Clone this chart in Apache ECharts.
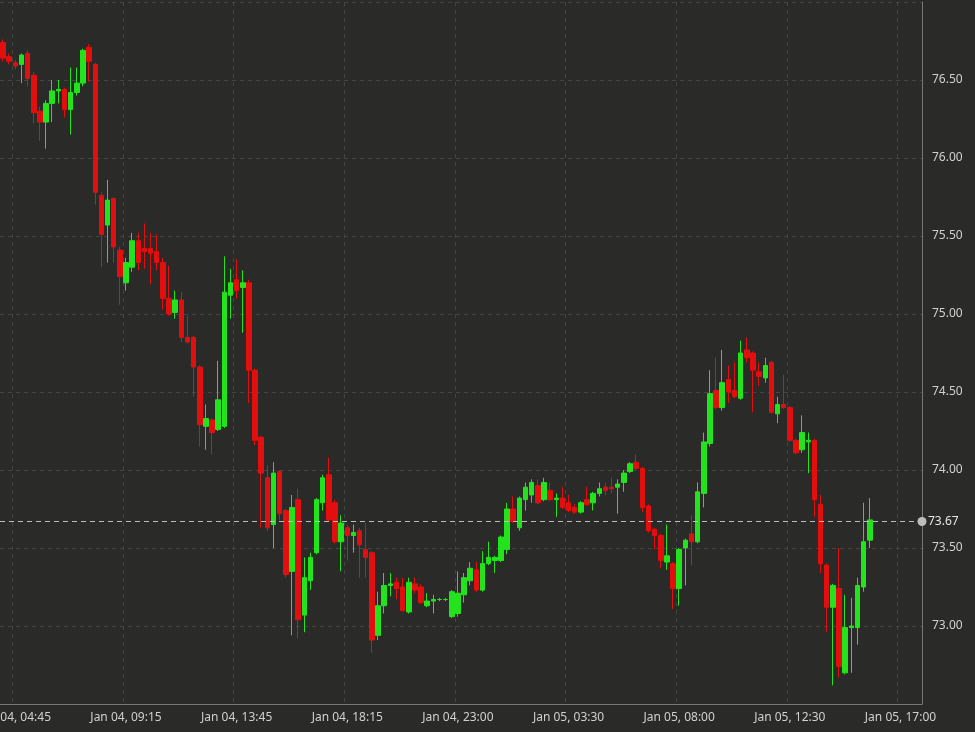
<!DOCTYPE html>
<html lang="en">
<head>
<meta charset="UTF-8">
<title>Candles</title>
<script src="https://cdn.jsdelivr.net/npm/echarts@6/dist/echarts.min.js"></script>
<style>html,body{margin:0;padding:0;background:#2a2b29;}</style>
</head>
<body>
<div id="main" style="width:975px;height:732px;"></div>
<script>
// 15-minute candles: [open, close, low, high]
var candles = [
  [76.74,76.64,76.62,76.76],[76.65,76.62,76.60,76.67],[76.61,76.59,76.57,76.63],[76.60,76.66,76.48,76.67],
  [76.67,76.51,76.46,76.69],[76.53,76.29,76.22,76.55],[76.30,76.23,76.11,76.33],[76.23,76.35,76.06,76.37],
  [76.35,76.43,76.23,76.50],[76.43,76.44,76.35,76.50],[76.44,76.31,76.26,76.45],[76.31,76.42,76.15,76.58],
  [76.42,76.48,76.40,76.58],[76.48,76.69,76.46,76.70],[76.71,76.62,76.49,76.73],[76.60,75.78,75.70,76.61],
  [75.76,75.51,75.30,75.78],[75.57,75.73,75.33,75.86],[75.74,75.43,75.33,75.75],[75.41,75.24,75.06,75.43],
  [75.20,75.33,75.15,75.36],[75.30,75.47,75.27,75.52],[75.47,75.33,75.28,75.52],[75.42,75.40,75.29,75.58],
  [75.42,75.39,75.19,75.52],[75.40,75.33,75.28,75.51],[75.33,75.10,75.03,75.36],[75.10,75.00,74.99,75.31],
  [75.01,75.09,74.97,75.15],[75.09,74.85,74.82,75.14],[74.85,74.82,74.81,74.99],[74.85,74.66,74.47,74.86],
  [74.66,74.29,74.15,74.67],[74.28,74.33,74.13,74.42],[74.32,74.24,74.10,74.33],[74.26,74.45,74.25,74.70],
  [74.28,75.14,74.27,75.37],[75.12,75.20,74.97,75.29],[75.22,75.15,75.10,75.35],[75.17,75.20,74.88,75.28],
  [75.20,74.64,74.43,75.22],[74.64,74.19,74.16,74.65],[74.21,73.98,73.63,74.22],[73.95,73.63,73.61,74.03],
  [73.65,73.98,73.50,74.05],[73.99,73.72,73.68,74.00],[73.74,73.33,73.31,73.75],[73.35,73.76,72.94,73.84],
  [73.81,73.04,72.92,73.88],[73.07,73.31,72.96,73.44],[73.29,73.44,73.23,73.47],[73.47,73.81,73.46,73.82],
  [73.79,73.95,73.74,73.97],[73.97,73.68,73.67,74.08],[73.79,73.54,73.53,73.81],[73.54,73.66,73.35,73.71],
  [73.63,73.58,73.42,73.65],[73.58,73.60,73.47,73.65],[73.61,73.52,73.31,73.63],[73.49,73.44,73.31,73.66],
  [73.47,72.91,72.83,73.48],[72.94,73.13,72.91,73.22],[73.13,73.26,73.08,73.34],[73.26,73.27,73.19,73.34],
  [73.28,73.24,73.17,73.31],[73.25,73.10,73.09,73.31],[73.09,73.28,73.08,73.31],[73.27,73.23,73.21,73.31],
  [73.25,73.15,73.14,73.27],[73.13,73.16,73.12,73.21],[73.16,73.17,73.08,73.20],[73.17,73.17,73.16,73.18],
  [73.17,73.17,73.16,73.18],[73.06,73.22,73.05,73.23],[73.08,73.21,73.06,73.35],[73.20,73.31,73.15,73.34],
  [73.29,73.37,73.26,73.41],[73.36,73.23,73.22,73.41],[73.23,73.40,73.22,73.48],[73.40,73.44,73.39,73.54],
  [73.42,73.44,73.34,73.45],[73.42,73.57,73.41,73.58],[73.49,73.75,73.46,73.79],[73.75,73.67,73.66,73.83],
  [73.63,73.82,73.61,73.83],[73.81,73.89,73.74,73.92],[73.84,73.92,73.79,73.94],[73.90,73.79,73.78,73.94],
  [73.81,73.92,73.80,73.95],[73.87,73.81,73.80,73.92],[73.81,73.82,73.70,73.85],[73.82,73.76,73.75,73.89],
  [73.79,73.74,73.73,73.84],[73.76,73.73,73.72,73.78],[73.73,73.79,73.72,73.80],[73.81,73.78,73.77,73.89],
  [73.79,73.85,73.74,73.86],[73.85,73.88,73.83,73.92],[73.89,73.87,73.84,73.92],[73.89,73.88,73.85,73.95],
  [73.89,73.91,73.72,73.94],[73.92,73.98,73.86,74.00],[73.99,74.04,73.98,74.05],[74.05,74.01,74.00,74.10],
  [74.01,73.76,73.73,74.02],[73.77,73.61,73.60,73.78],[73.62,73.58,73.49,73.63],[73.58,73.42,73.37,73.59],
  [73.41,73.45,73.36,73.65],[73.40,73.24,73.11,73.41],[73.24,73.49,73.13,73.50],[73.50,73.55,73.26,73.56],
  [73.59,73.54,73.39,73.71],[73.54,73.86,73.53,73.92],[73.85,74.18,73.76,74.24],[74.17,74.49,74.15,74.64],
  [74.51,74.40,74.39,74.72],[74.40,74.56,74.38,74.77],[74.58,74.50,74.43,74.67],[74.51,74.47,74.46,74.69],
  [74.46,74.75,74.45,74.83],[74.77,74.72,74.69,74.85],[74.75,74.64,74.37,74.76],[74.63,74.60,74.54,74.69],
  [74.59,74.67,74.56,74.72],[74.69,74.37,74.36,74.70],[74.36,74.42,74.30,74.47],[74.42,74.40,74.39,74.61],
  [74.40,74.19,74.18,74.41],[74.19,74.11,74.10,74.20],[74.13,74.24,74.11,74.35],[74.18,74.19,73.98,74.24],
  [74.19,73.81,73.70,74.20],[73.78,73.40,73.34,73.84],[73.39,73.12,72.96,73.40],[73.12,73.26,72.62,73.27],
  [73.24,72.74,72.67,73.50],[72.70,72.99,72.69,73.20],[72.99,73.00,72.70,73.18],[72.99,73.26,72.88,73.31],
  [73.25,73.54,73.22,73.79],[73.55,73.68,73.50,73.82]
];
var slotCount = 150;
var tickIndex = [2, 20, 38, 56, 74, 92, 110, 128, 146];
var tickLabels = ['Jan 04, 04:45','Jan 04, 09:15','Jan 04, 13:45','Jan 04, 18:15','Jan 04, 23:00',
                  'Jan 05, 03:30','Jan 05, 08:00','Jan 05, 12:30','Jan 05, 17:00'];
var lastPrice = 73.67;

var categories = [];
for (var i = 0; i < slotCount; i++) {
  var k = tickIndex.indexOf(i);
  categories.push(k >= 0 ? tickLabels[k] : String(i));
}

var myChart = echarts.init(document.getElementById('main'));
myChart.setOption({
  backgroundColor: '#2a2b29',
  animation: false,
  grid: { left: 0, right: 53, top: 2, bottom: 28, outerBoundsMode: 'none', containLabel: false },
  xAxis: {
    type: 'category',
    data: categories,
    boundaryGap: true,
    axisLine: { lineStyle: { color: '#777' } },
    axisTick: { alignWithLabel: true, interval: function (i) { return tickIndex.indexOf(i) >= 0; }, lineStyle: { color: '#777' } },
    axisLabel: {
      interval: function (i) { return tickIndex.indexOf(i) >= 0; },
      color: '#d0d0d0', fontSize: 12, fontFamily: 'Noto Sans', margin: 8, hideOverlap: false
    },
    splitLine: {
      show: true,
      interval: function (i) { return tickIndex.indexOf(i) >= 0; },
      lineStyle: { color: '#444', type: [4, 4] }
    }
  },
  yAxis: {
    type: 'value',
    position: 'right',
    min: 72.5, max: 77.0, interval: 0.5,
    axisLine: { show: true, lineStyle: { color: '#777' } },
    axisTick: { show: false },
    axisLabel: {
      color: '#d0d0d0', fontSize: 12, fontFamily: 'Noto Sans', margin: 10,
      formatter: function (v) { return (v > 72.9 && v < 76.9) ? v.toFixed(2) : ''; }
    },
    splitLine: { lineStyle: { color: '#444', type: [4, 4] } }
  },
  series: [{
    type: 'candlestick',
    data: candles,
    barWidth: 5,
    itemStyle: {
      color: '#22e31c', color0: '#e30e0e',
      borderColor: '#22e31c', borderColor0: '#e30e0e', borderWidth: 1
    },
    markLine: {
      silent: true,
      symbol: ['none', 'circle'],
      symbolSize: 9,
      lineStyle: { color: '#bdbdbd', type: [5, 4], width: 1 },
      itemStyle: { color: '#8a8a8a' },
      label: { position: 'end', color: '#e6e6e6', fontSize: 12, fontFamily: 'Noto Sans', distance: 6,
        formatter: function () { return lastPrice.toFixed(2); } },
      data: [{ yAxis: lastPrice }]
    }
  }]
});
</script>
</body>
</html>
